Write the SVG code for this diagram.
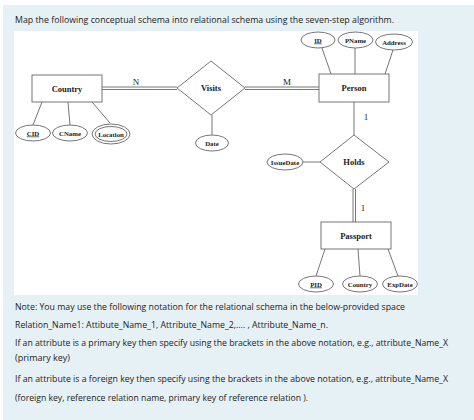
<svg xmlns="http://www.w3.org/2000/svg" width="474" height="420" viewBox="0 0 474 420">
<style>
.q{font-family:"Open Sans","Noto Sans",sans-serif;font-size:8.9px;fill:#222}
.e{fill:#fff;stroke:#666;stroke-width:0.9}
.l{stroke:#666;stroke-width:0.9;fill:none}
.t{font-family:"Liberation Serif",serif;font-weight:bold;fill:#222;text-anchor:middle}
.n{font-size:8.5px}
.a{font-size:6.8px}
.c{font-family:"Liberation Serif",serif;font-size:9px;fill:#222;text-anchor:middle}
</style>
<rect x="0" y="0" width="474" height="420" fill="#fff"/>
<rect x="3" y="5" width="471" height="415" fill="#e6f1f5"/>
<text class="q" x="15" y="23" textLength="379" lengthAdjust="spacingAndGlyphs">Map the following conceptual schema into relational schema using the seven-step algorithm.</text>
<rect x="14" y="31" width="404" height="264" fill="#fff"/>
<g id="connectors">
<line class="l" x1="102" y1="87" x2="177" y2="87"/>
<line class="l" x1="102" y1="89.5" x2="177" y2="89.5"/>
<line class="l" x1="245" y1="87" x2="319" y2="87"/>
<line class="l" x1="245" y1="89.5" x2="319" y2="89.5"/>
<line class="l" x1="212" y1="115" x2="212" y2="135"/>
<line class="l" x1="42" y1="102" x2="33" y2="125"/>
<line class="l" x1="68" y1="102" x2="70" y2="125"/>
<line class="l" x1="92" y1="102" x2="110" y2="123"/>
<line class="l" x1="322" y1="48" x2="331" y2="74"/>
<line class="l" x1="355" y1="48" x2="355" y2="74"/>
<line class="l" x1="393" y1="50" x2="385" y2="74"/>
<line class="l" x1="354" y1="102" x2="354" y2="135"/>
<line class="l" x1="303" y1="162" x2="320" y2="162"/>
<line class="l" x1="353" y1="189" x2="353" y2="222"/>
<line class="l" x1="355.5" y1="189" x2="355.5" y2="222"/>
<line class="l" x1="325" y1="249" x2="316" y2="276"/>
<line class="l" x1="358" y1="249" x2="360" y2="276"/>
<line class="l" x1="388" y1="249" x2="398" y2="276"/>
<text class="c" x="136" y="85">N</text>
<text class="c" x="287" y="85">M</text>
<text class="c" x="366" y="120">1</text>
<text class="c" x="363" y="211">1</text>
</g>
<g id="country"><rect class="e" x="32" y="75" width="70" height="27"/><text class="t n" x="67" y="91.5">Country</text></g>
<g id="visits"><polygon class="e" points="211,61 245,88 211,115 177,88"/><text class="t n" x="211" y="91">Visits</text></g>
<g id="person"><rect class="e" x="319" y="74" width="70" height="28"/><text class="t n" x="354" y="91">Person</text></g>
<g id="holds"><polygon class="e" points="354,135 389,162 354,189 320,162"/><text class="t n" x="354" y="165">Holds</text></g>
<g id="passport"><rect class="e" x="321" y="222" width="70" height="27"/><text class="t n" x="356" y="238.5">Passport</text></g>
<g id="cid"><ellipse class="e" cx="33" cy="133" rx="17.5" ry="8"/><text class="t a" x="33" y="135.5" text-decoration="underline">CID</text></g>
<g id="cname"><ellipse class="e" cx="70" cy="133" rx="17.5" ry="8"/><text class="t a" x="70" y="135.5">CName</text></g>
<g id="location"><ellipse class="e" cx="111" cy="134" rx="19" ry="10"/><ellipse class="e" cx="111" cy="134" rx="16" ry="7.5"/><text class="t a" x="111" y="136.5">Location</text></g>
<g id="date"><ellipse class="e" cx="212" cy="143" rx="16.5" ry="8"/><text class="t a" x="212" y="145.5">Date</text></g>
<g id="id"><ellipse class="e" cx="318" cy="40" rx="17" ry="8"/><text class="t a" x="318" y="42.5" text-decoration="underline">ID</text></g>
<g id="pname"><ellipse class="e" cx="355.5" cy="40" rx="17.5" ry="8"/><text class="t a" x="355.5" y="42.5">PName</text></g>
<g id="address"><ellipse class="e" cx="394" cy="42" rx="18.5" ry="8"/><text class="t a" x="394" y="44.5">Address</text></g>
<g id="issuedate"><ellipse class="e" cx="285" cy="162" rx="18" ry="8"/><text class="t a" x="285" y="164.5">IssueDate</text></g>
<g id="pid"><ellipse class="e" cx="316" cy="284" rx="17.5" ry="8"/><text class="t a" x="316" y="286.5" text-decoration="underline">PID</text></g>
<g id="pcountry"><ellipse class="e" cx="360" cy="284" rx="17.5" ry="8"/><text class="t a" x="360" y="286.5">Country</text></g>
<g id="expdate"><ellipse class="e" cx="400" cy="284" rx="17.5" ry="8"/><text class="t a" x="400" y="286.5">ExpDate</text></g>
<text class="q" x="15" y="310" textLength="390" lengthAdjust="spacingAndGlyphs">Note: You may use the following notation for the relational schema in the below-provided space</text>
<text class="q" x="15" y="328" textLength="313" lengthAdjust="spacingAndGlyphs">Relation_Name1: Attibute_Name_1, Attribute_Name_2,.... , Attribute_Name_n.</text>
<text class="q" x="15" y="346" textLength="433" lengthAdjust="spacingAndGlyphs">If an attribute is a primary key then specify using the brackets in the above notation, e.g., attribute_Name_X</text>
<text class="q" x="15" y="361" textLength="55" lengthAdjust="spacingAndGlyphs">(primary key)</text>
<text class="q" x="15" y="382" textLength="433" lengthAdjust="spacingAndGlyphs">If an attribute is a foreign key then specify using the brackets in the above notation, e.g., attribute_Name_X</text>
<text class="q" x="15" y="401" textLength="293" lengthAdjust="spacingAndGlyphs">(foreign key, reference relation name, primary key of reference relation ).</text>
</svg>
